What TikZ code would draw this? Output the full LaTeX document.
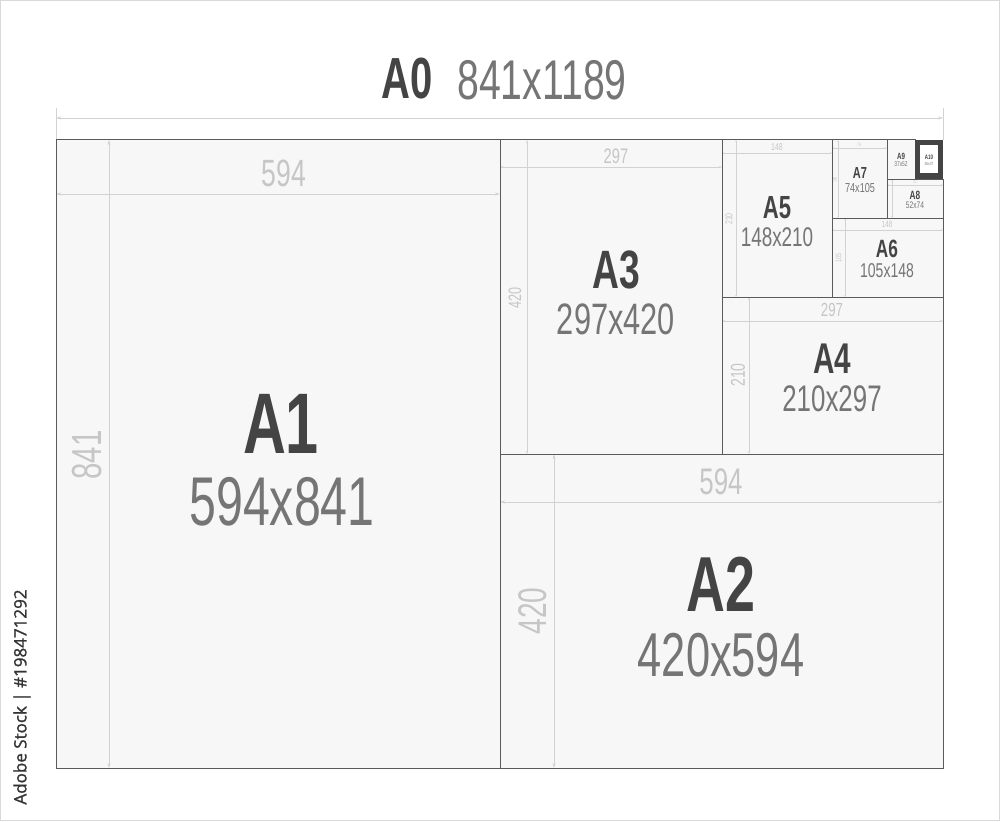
\documentclass[tikz,border=0pt]{standalone}
\usepackage{fontspec}
\usetikzlibrary{arrows.meta}
\setmainfont{Liberation Sans}
\newfontfamily\namefont[FakeStretch=0.69]{Liberation Sans}
\newfontfamily\numfont[FakeStretch=0.70]{Liberation Sans}
\newfontfamily\sidefont[FakeBold=1.2]{Open Sans}
\definecolor{bordc}{HTML}{5A5A5A}
\definecolor{pagec}{HTML}{F7F7F7}
\definecolor{dimc}{HTML}{D2D2D2}
\definecolor{dimlabc}{HTML}{C6C6C6}
\definecolor{namec}{HTML}{444444}
\definecolor{sizec}{HTML}{757575}
\newcommand{\fsz}[1]{\fontsize{#1}{#1}\selectfont}
\tikzset{
  pagefill/.style={fill=pagec, draw=none},
  pageline/.style={draw=bordc, line width=1pt},
  ext/.style={draw=dimc, line width=0.6pt},
  dimL/.style={draw=dimc, line width=0.7pt, {Stealth[length=5pt,width=3pt]}-{Stealth[length=5pt,width=3pt]}},
  dimM/.style={draw=dimc, line width=0.5pt, {Stealth[length=3pt,width=2pt]}-{Stealth[length=3pt,width=2pt]}},
  dimS/.style={draw=dimc, line width=0.4pt, {Stealth[length=2pt,width=1.4pt]}-{Stealth[length=2pt,width=1.4pt]}},
  dimlab/.style={text=dimlabc, inner sep=0pt, font=\numfont},
  namelab/.style={text=namec, inner sep=0pt},
  sizelab/.style={text=sizec, inner sep=0pt}
}
\begin{document}
\begin{tikzpicture}[x=1pt,y=-1pt]
\useasboundingbox (0,0) rectangle (1000,821);
\fill[white] (0,0) rectangle (1000,821);
\draw[draw=black!15, line width=1pt] (0.5,0.5) rectangle (999.5,820.5);

% corner coordinates
\coordinate (A0nw) at (56,140);  \coordinate (A0se) at (943,768);
\coordinate (A1nw) at (56,140);  \coordinate (A1se) at (500,768);
\coordinate (A2nw) at (500,454); \coordinate (A2se) at (943,768);
\coordinate (A3nw) at (500,140); \coordinate (A3se) at (722,454);
\coordinate (A4nw) at (722,297); \coordinate (A4se) at (943,454);
\coordinate (A5nw) at (722,140); \coordinate (A5se) at (832,297);
\coordinate (A6nw) at (832,218); \coordinate (A6se) at (943,297);
\coordinate (A7nw) at (832,140); \coordinate (A7se) at (887,218);
\coordinate (A8nw) at (887,179); \coordinate (A8se) at (943,218);
\coordinate (A9nw) at (887,140); \coordinate (A9se) at (915,179);
\coordinate (A10nw) at (915,140); \coordinate (A10se) at (943,179);

% page fill
\path[pagefill] (A0nw) rectangle (A0se);

% top A0 dimension
\coordinate (tl) at (56,108); \coordinate (tr) at (943,108);
\coordinate (tdl) at (56,118); \coordinate (tdr) at (943,118);
\draw[ext] (tl) -- (A0nw);
\draw[ext] (tr) -- (943,140);
\draw[dimL] (tdl) -- (tdr);

% A1 dims
\coordinate (d1a) at (56,194); \coordinate (d1b) at (500,194);
\coordinate (d1c) at (109,140); \coordinate (d1d) at (109,768);
\draw[dimL] (d1a) -- (d1b);
\draw[dimL] (d1c) -- (d1d);
\node[dimlab, font=\numfont\fsz{38}] (l1w) at (284,173) {594};
\node[dimlab, font=\numfont\fsz{42}, rotate=90] (l1h) at (87,455) {841};

% A3 dims
\coordinate (d3a) at (500,167); \coordinate (d3b) at (722,167);
\coordinate (d3c) at (527,140); \coordinate (d3d) at (527,454);
\draw[dimM] (d3a) -- (d3b);
\draw[dimM] (d3c) -- (d3d);
\node[dimlab, font=\numfont\fsz{21}] (l3w) at (616,156) {297};
\node[dimlab, font=\numfont\fsz{18}, rotate=90] (l3h) at (515,298) {420};

% A2 dims
\coordinate (d2a) at (500,502); \coordinate (d2b) at (943,502);
\coordinate (d2c) at (554,454); \coordinate (d2d) at (554,768);
\draw[dimL] (d2a) -- (d2b);
\draw[dimL] (d2c) -- (d2d);
\node[dimlab, font=\numfont\fsz{37}] (l2w) at (721,482) {594};
\node[dimlab, font=\numfont\fsz{40}, rotate=90] (l2h) at (533,611) {420};

% A4 dims
\coordinate (d4a) at (722,321); \coordinate (d4b) at (943,321);
\coordinate (d4c) at (749,297); \coordinate (d4d) at (749,454);
\draw[dimM] (d4a) -- (d4b);
\draw[dimM] (d4c) -- (d4d);
\node[dimlab, font=\numfont\fsz{19}] (l4w) at (832,310) {297};
\node[dimlab, font=\numfont\fsz{20}, rotate=90] (l4h) at (738,375) {210};

% A5 dims
\coordinate (d5a) at (722,153); \coordinate (d5b) at (832,153);
\coordinate (d5c) at (736,140); \coordinate (d5d) at (736,297);
\draw[dimS] (d5a) -- (d5b);
\draw[dimS] (d5c) -- (d5d);
\node[dimlab, font=\numfont\fsz{10}] (l5w) at (777,147) {148};
\node[dimlab, font=\numfont\fsz{10}, rotate=90] (l5h) at (729,219) {210};

% A6 dims
\coordinate (d6a) at (832,230); \coordinate (d6b) at (943,230);
\coordinate (d6c) at (845,218); \coordinate (d6d) at (845,297);
\draw[dimS] (d6a) -- (d6b);
\draw[dimS] (d6c) -- (d6d);
\node[dimlab, font=\numfont\fsz{9}] (l6w) at (887,224.5) {148};
\node[dimlab, font=\numfont\fsz{8}, rotate=90] (l6h) at (838.5,258) {105};

% A7 dims
\coordinate (d7a) at (832,148); \coordinate (d7b) at (887,148);
\coordinate (d7c) at (838,140); \coordinate (d7d) at (838,218);
\draw[dimS] (d7a) -- (d7b);
\draw[dimS] (d7c) -- (d7d);
\node[dimlab, font=\numfont\fsz{5}] (l7w) at (859,144.5) {74};
\node[dimlab, font=\numfont\fsz{5}, rotate=90] (l7h) at (835,180) {105};

% A8 dims
\coordinate (d8a) at (887,185); \coordinate (d8b) at (943,185);
\coordinate (d8c) at (892,179); \coordinate (d8d) at (892,218);
\draw[dimS] (d8a) -- (d8b);
\draw[dimS] (d8c) -- (d8d);
\node[dimlab, font=\numfont\fsz{4}] (l8w) at (915,182) {52};

% page borders
\draw[pageline] (A1nw) rectangle (A1se);
\draw[pageline] (A2nw) rectangle (A2se);
\draw[pageline] (A3nw) rectangle (A3se);
\draw[pageline] (A4nw) rectangle (A4se);
\draw[pageline] (A5nw) rectangle (A5se);
\draw[pageline] (A6nw) rectangle (A6se);
\draw[pageline] (A7nw) rectangle (A7se);
\draw[pageline] (A8nw) rectangle (A8se);
\draw[pageline] (A9nw) rectangle (A9se);
% A10 highlighted
\fill[namec] (A10nw) rectangle (A10se);
\coordinate (A10inw) at (920,145); \coordinate (A10ise) at (938,173);
\fill[white] (A10inw) rectangle (A10ise);

% title
\node[namelab, font=\namefont\bfseries\fsz{58}] (t0) at (407,79) {A0};
\node[sizelab, font=\numfont\fsz{56}] (s0) at (542,80) {841x1189};

% labels
\node[namelab, font=\namefont\bfseries\fsz{86}] (n1) at (281,424) {A1};
\node[sizelab, font=\numfont\fsz{69}] (s1) at (282,502) {594x841};
\node[namelab, font=\namefont\bfseries\fsz{78}] (n2) at (721,584) {A2};
\node[sizelab, font=\numfont\fsz{62}] (s2) at (721,655) {420x594};
\node[namelab, font=\namefont\bfseries\fsz{54}] (n3) at (616,270) {A3};
\node[sizelab, font=\numfont\fsz{44}] (s3) at (616,319) {297x420};
\node[namelab, font=\namefont\bfseries\fsz{43}] (n4) at (832,359) {A4};
\node[sizelab, font=\numfont\fsz{37}] (s4) at (832,399) {210x297};
\node[namelab, font=\namefont\bfseries\fsz{32}] (n5) at (777,208) {A5};
\node[sizelab, font=\numfont\fsz{27}] (s5) at (777,237) {148x210};
\node[namelab, font=\namefont\bfseries\fsz{25}] (n6) at (887,249) {A6};
\node[sizelab, font=\numfont\fsz{20}] (s6) at (887,271) {105x148};
\node[namelab, font=\namefont\bfseries\fsz{16}] (n7) at (860,173) {A7};
\node[sizelab, font=\numfont\fsz{13}] (s7) at (860,188) {74x105};
\node[namelab, font=\namefont\bfseries\fsz{12}] (n8) at (915,195) {A8};
\node[sizelab, font=\numfont\fsz{9.5}] (s8) at (915,205) {52x74};
\node[namelab, font=\namefont\bfseries\fsz{9}] (n9) at (901,156) {A9};
\node[sizelab, font=\numfont\fsz{7}] (s9) at (901,164.5) {37x52};
\node[namelab, font=\namefont\bfseries\fsz{6.5}] (n10) at (929,157) {A10};
\node[sizelab, font=\numfont\fsz{4.5}] (s10) at (929,163.5) {26x37};

% side credit
\node[text=black!80, inner sep=0pt, font=\sidefont\fsz{17}, rotate=90] (credit) at (22,697) {Adobe Stock | \#198471292};
\end{tikzpicture}
\end{document}
